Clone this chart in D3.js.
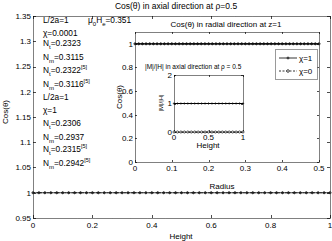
<!DOCTYPE html>
<html>
<head>
<meta charset="utf-8">
<script src="https://cdn.jsdelivr.net/npm/d3@7"></script>
<style>
  body { margin: 0; background: #fff; }
  svg { display: block; font-family: "Liberation Sans", Arial, sans-serif; }
  .tick-label { font-size: 8px; fill: #000; }
  .frame { fill: none; stroke: #000; stroke-width: 1; stroke-dasharray: 1,1; }
</style>
</head>
<body>
<svg id="chart" width="332" height="241"></svg>
<script>
// ---- data ----
const mainHeight = [0,0.02,0.04,0.06,0.08,0.1,0.12,0.14,0.16,0.18,0.2,0.22,0.24,0.26,0.28,0.3,0.32,0.34,0.36,0.38,0.4,0.42,0.44,0.46,0.48,0.5,0.52,0.54,0.56,0.58,0.6,0.62,0.64,0.66,0.68,0.7,0.72,0.74,0.76,0.78,0.8,0.82,0.84,0.86,0.88,0.9,0.92,0.94,0.96,0.98,1]
const cosAxialChi1 = [1,1,1,1,1,1,1,1,1,1,1,1,1,1,1,1,1,1,1,1,1,1,1,1,1,1,1,1,1,1,1,1,1,1,1,1,1,1,1,1,1,1,1,1,1,1,1,1,1,1,1]
const cosAxialChi0 = [1,1,1,1,1,1,1,1,1,1,1,1,1,1,1,1,1,1,1,1,1,1,1,1,1,1,1,1,1,1,1,1,1,1,1,1,1,1,1,1,1,1,1,1,1,1,1,1,1,1,1]

const radius = [0,0.01,0.02,0.03,0.04,0.05,0.06,0.07,0.08,0.09,0.1,0.11,0.12,0.13,0.14,0.15,0.16,0.17,0.18,0.19,0.2,0.21,0.22,0.23,0.24,0.25,0.26,0.27,0.28,0.29,0.3,0.31,0.32,0.33,0.34,0.35,0.36,0.37,0.38,0.39,0.4,0.41,0.42,0.43,0.44,0.45,0.46,0.47,0.48,0.49,0.5]
const cosRadialChi1 = [1,1,1,1,1,1,1,1,1,1,1,1,1,1,1,1,1,1,1,1,1,1,1,1,1,1,1,1,1,1,1,1,1,1,1,1,1,1,1,1,1,1,1,1,1,1,1,1,1,1,1]
const cosRadialChi0 = [1,1,1,1,1,1,1,1,1,1,1,1,1,1,1,1,1,1,1,1,1,1,1,1,1,1,1,1,1,1,1,1,1,1,1,1,1,1,1,1,1,1,1,1,1,1,1,1,1,1,1]

const insetHeight = [0,0.05,0.1,0.15,0.2,0.25,0.3,0.35,0.4,0.45,0.5,0.55,0.6,0.65,0.7,0.75,0.8,0.85,0.9,0.95,1]
const mhChi1 = [1,1,1,1,1,1,1,1,1,1,1,1,1,1,1,1,1,1,1,1,1]
const mhChi0 = [0.0001,0.0001,0.0001,0.0001,0.0001,0.0001,0.0001,0.0001,0.0001,0.0001,0.0001,0.0001,0.0001,0.0001,0.0001,0.0001,0.0001,0.0001,0.0001,0.0001,0.0001]

const mainYTicks = [0.95,1,1.05,1.1,1.15,1.2,1.25,1.3,1.35]
const mainXTicks = [0,0.2,0.4,0.6,0.8,1]
const radYTicks = [0,0.2,0.4,0.6,0.8,1]
const radXTicks = [0,0.1,0.2,0.3,0.4,0.5]
const mhYTicks = [0,1,2]
const mhXTicks = [0,0.5,1]
const legendLabels = ['χ=1', 'χ=0']

// annotation lines: [base, subscript, rest, superscript]
const notes = [
  ['L/2a=1', '', '', ''],
  ['χ=0.0001', '', '', ''],
  ['N', 't', '=0.2323', ''],
  ['N', 'm', '=0.3115', ''],
  ['N', 't', '=0.2322', '[5]'],
  ['N', 'm', '=0.3116', '[5]'],
  ['L/2a=1', '', '', ''],
  ['χ=1', '', '', ''],
  ['N', 't', '=0.2306', ''],
  ['N', 'm', '=0.2937', ''],
  ['N', 't', '=0.2315', '[5]'],
  ['N', 'm', '=0.2942', '[5]']
]
const noteY = [23, 36, 46, 60, 73, 87, 100, 113, 126, 140, 152, 166]

const $svg = d3.select('#chart')

const fmt = d => String(d)

function drawAxes($g, x, y, xTicks, yTicks, opts) {
  const [x0, x1] = x.range()
  const [y0, y1] = y.range()
  $g.append('rect')
    .attr('x', x0).attr('y', y1)
    .attr('width', x1 - x0).attr('height', y0 - y1)
    .attr('fill', '#fff')
  $g.append('rect')
    .attr('class', 'frame')
    .attr('x', x0 + 0.5).attr('y', y1 + 0.5)
    .attr('width', x1 - x0).attr('height', y0 - y1)

  const tl = opts.tickLen
  $g.selectAll('.xt').data(xTicks).enter().append('path')
    .attr('d', d => `M${Math.round(x(d)) + 0.5},${y0}v${-tl}M${Math.round(x(d)) + 0.5},${y1}v${tl}`)
    .attr('stroke', '#000').attr('stroke-width', 0.7)
  $g.selectAll('.yt').data(yTicks).enter().append('path')
    .attr('d', d => `M${x0},${Math.round(y(d)) + 0.5}h${tl}M${x1},${Math.round(y(d)) + 0.5}h${-tl}`)
    .attr('stroke', '#000').attr('stroke-width', 0.7)

  $g.selectAll('.xl').data(xTicks).enter().append('text')
    .attr('class', 'tick-label')
    .attr('x', d => x(d)).attr('y', y0 + opts.xLabOff)
    .attr('text-anchor', 'middle')
    .style('font-size', opts.fs + 'px')
    .text(fmt)
  $g.selectAll('.yl').data(yTicks).enter().append('text')
    .attr('class', 'tick-label')
    .attr('x', x0 - 2).attr('y', d => y(d) + opts.fs * 0.35)
    .attr('text-anchor', 'end')
    .style('font-size', opts.fs + 'px')
    .text(fmt)
}

function drawSeries($g, x, y, xs, ys, marker, dashed, width) {
  const pts = xs.map((d, i) => [x(d), y(ys[i])])
  $g.append('path')
    .attr('d', d3.line()(pts))
    .attr('fill', 'none').attr('stroke', '#000')
    .attr('stroke-width', width)
    .attr('stroke-dasharray', dashed ? '2,1.5' : null)
  if (marker === 'o') {
    $g.selectAll(null).data(pts).enter().append('circle')
      .attr('cx', d => d[0]).attr('cy', d => d[1]).attr('r', 1.1)
      .attr('fill', '#fff').attr('stroke', '#000').attr('stroke-width', 0.6)
  } else {
    $g.selectAll(null).data(pts).enter().append('path')
      .attr('d', d => `M${d[0] - 1.2},${d[1]}h2.4M${d[0]},${d[1] - 1.2}v2.4`)
      .attr('stroke', '#000').attr('stroke-width', 0.6)
  }
}

// ---- main axes ----
const xMain = d3.scaleLinear().domain([0, 1]).range([33, 330])
const yMain = d3.scaleLinear().domain([0.95, 1.35]).range([218, 16])
const $main = $svg.append('g')
drawAxes($main, xMain, yMain, mainXTicks, mainYTicks, { tickLen: 3, xLabOff: 10, fs: 8 })
drawSeries($main, xMain, yMain, mainHeight, cosAxialChi0, 'o', true, 0.7)
drawSeries($main, xMain, yMain, mainHeight, cosAxialChi1, '+', false, 0.7)

$svg.append('text').attr('x', 176).attr('y', 9).attr('text-anchor', 'middle')
  .style('font-size', '8.5px')
  .text('Cos(θ) in axial direction at ρ=0.5')
$svg.append('text').attr('x', 181).attr('y', 239).attr('text-anchor', 'middle')
  .style('font-size', '8px').text('Height')
$svg.append('text').attr('transform', 'translate(8,112) rotate(-90)')
  .attr('text-anchor', 'middle').style('font-size', '8px').text('Cos(θ)')

// annotations
const $notes = $main.append('g').style('font-size', '8.3px')
notes.forEach((n, i) => {
  const t = $notes.append('text').attr('x', 43).attr('y', noteY[i])
  t.append('tspan').text(n[0])
  if (n[1]) t.append('tspan').attr('dy', 2.5).style('font-size', '6px').text(n[1])
  if (n[2]) t.append('tspan').attr('dy', n[1] ? -2.5 : 0).text(n[2])
  if (n[3]) t.append('tspan').attr('dy', -4).style('font-size', '5.5px').text(n[3])
})
const $mu = $notes.append('text').attr('x', 88).attr('y', 23)
$mu.append('tspan').text('μ')
$mu.append('tspan').attr('dy', 2.5).style('font-size', '6px').text('0')
$mu.append('tspan').attr('dy', -2.5).text('H')
$mu.append('tspan').attr('dy', 2.5).style('font-size', '6px').text('e')
$mu.append('tspan').attr('dy', -2.5).text('=0.351')

// ---- inset 1: radial direction ----
const xRad = d3.scaleLinear().domain([0, 0.5]).range([135, 319])
const yRad = d3.scaleLinear().domain([0, 1.1]).range([162, 32])
const $rad = $svg.append('g')
drawAxes($rad, xRad, yRad, radXTicks, radYTicks, { tickLen: 2, xLabOff: 9, fs: 8 })
drawSeries($rad, xRad, yRad, radius, cosRadialChi0, 'o', true, 0.8)
drawSeries($rad, xRad, yRad, radius, cosRadialChi1, '+', false, 1.2)
$svg.append('text').attr('x', 226).attr('y', 27).attr('text-anchor', 'middle')
  .style('font-size', '8px').text('Cos(θ) in radial direction at z=1')
$svg.append('text').attr('x', 222).attr('y', 189).attr('text-anchor', 'middle')
  .style('font-size', '8px').text('Radius')
$svg.append('text').attr('transform', 'translate(122,97) rotate(-90)')
  .attr('text-anchor', 'middle').style('font-size', '8px').text('Cos(θ)')

// legend
const $leg = $svg.append('g')
$leg.append('rect').attr('x', 275.5).attr('y', 49.5).attr('width', 42).attr('height', 30)
  .attr('fill', '#fff').attr('stroke', '#000').attr('stroke-width', 0.8).attr('stroke-dasharray', '1,1')
legendLabels.forEach((lab, i) => {
  const ly = 58 + i * 13
  $leg.append('path').attr('d', `M279,${ly}h18`).attr('stroke', '#000').attr('stroke-width', 0.8)
    .attr('stroke-dasharray', i ? '2,1.5' : null)
  if (i) {
    $leg.append('circle').attr('cx', 288).attr('cy', ly).attr('r', 1.3)
      .attr('fill', '#fff').attr('stroke', '#000').attr('stroke-width', 0.7)
  } else {
    $leg.append('path').attr('d', `M286.5,${ly}h3M288,${ly - 1.5}v3`).attr('stroke', '#000').attr('stroke-width', 0.7)
  }
  $leg.append('text').attr('x', 299).attr('y', ly + 3).style('font-size', '8px').text(lab)
})

// ---- inset 2: |M|/|H| ----
const xMh = d3.scaleLinear().domain([0, 1]).range([174, 243])
const yMh = d3.scaleLinear().domain([0, 2]).range([132, 75])
const $mh = $svg.append('g')
drawAxes($mh, xMh, yMh, mhXTicks, mhYTicks, { tickLen: 2, xLabOff: 8, fs: 8 })
drawSeries($mh, xMh, yMh, insetHeight, mhChi0, 'o', true, 1)
drawSeries($mh, xMh, yMh, insetHeight, mhChi1, '+', false, 1)
$svg.append('text').attr('x', 145).attr('y', 69)
  .style('font-size', '6.5px').text('|M|/|H| in axial direction at ρ = 0.5')
$svg.append('text').attr('x', 208).attr('y', 148).attr('text-anchor', 'middle')
  .style('font-size', '8px').text('Height')
$svg.append('text').attr('transform', 'translate(163,103) rotate(-90)')
  .attr('text-anchor', 'middle').style('font-size', '6px').text('|M|/|H|')
</script>
</body>
</html>
